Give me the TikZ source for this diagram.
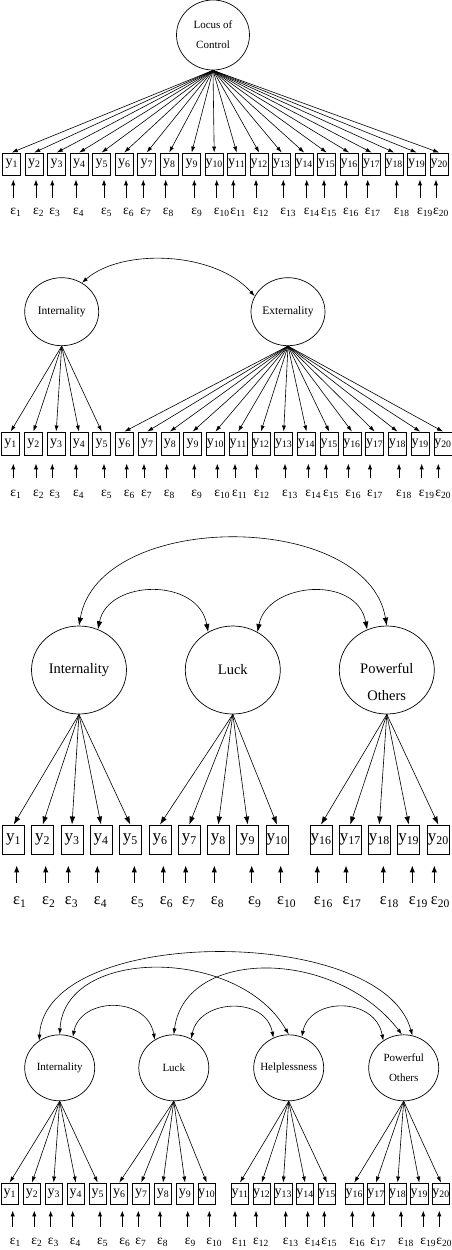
\documentclass[tikz,border=0pt]{standalone}
\usepackage{fontspec}
\setmainfont{Liberation Serif}
\usetikzlibrary{shapes.geometric, arrows.meta}

\newcommand{\ylab}[1]{y\textsubscript{#1}}
\newcommand{\elab}[1]{ε\rlap{\textsubscript{#1}}}

\begin{document}
\begin{tikzpicture}[
	x=1pt, y=-1pt,
	nodes = {
		align = center
	},
	lines/.style={
		line width=0.6pt,
		>={Latex[length=6pt,width=4pt]}
	},
	errlines/.style={
		line width=1pt,
		>={Latex[length=6pt,width=4.5pt]}
	},
	latent/.style={
		ellipse,
		draw=black,
		line width=0.7pt,
		inner sep=-12pt,
		minimum width=70pt,
		minimum height=66pt,
		font=\fontsize{11}{20}\selectfont
	},
	obs/.style={
		rectangle,
		draw=black,
		line width=0.9pt,
		inner sep=0pt,
		minimum width=18pt,
		minimum height=22pt,
		font=\fontsize{14}{14}\selectfont
	},
	err/.style={
		inner sep=0pt,
		anchor=south,
		text height=6pt,
		text depth=0pt,
		font=\fontsize{13.5}{13.5}\selectfont
	}
]
	\useasboundingbox (0,0) rectangle (452,1250);

	% one general factor
	\node[latent, minimum width=73pt, minimum height=70pt] (alc) at (213,35) {
		Locus of\\
		Control
	};
	\foreach \i/\ux in {1/13.3, 2/36, 3/52.3, 4/76, 5/104, 6/126, 7/143.3, 8/165.7, 9/194.3, 10/216.7,
		11/233.3, 12/256, 13/283.3, 14/306.7, 15/324, 16/346, 17/367.7, 18/396.7, 19/420, 20/436} {
		\node[obs] (ay\i) at ({11.7+22.5*(\i-1)}, 164) {\ylab{\i}};
		\node[err] (ae\i) at (\ux, 215) {\elab{\i}};
		\draw[lines,->] (alc.south) -- (ay\i.north);
		\draw[errlines,->,shorten <=11pt,shorten >=4pt] (ae\i.north) -- (ae\i.north |- ay\i.south);
	}

	% two factors
	\node[latent, minimum width=74pt, minimum height=68pt, font=\fontsize{11.5}{14}\selectfont] (bint) at (61.7,311.7) {Internality};
	\node[latent, minimum width=74pt, minimum height=68pt, font=\fontsize{11.5}{14}\selectfont] (bext) at (288,311.7) {Externality};
	\draw[lines,<->] (bint.55) .. controls +(40,-35) and +(-40,-45) .. (bext.155);
	\foreach \i/\ux in {1/13.3, 2/36, 3/52.3, 4/76, 5/104, 6/126.7, 7/144, 8/166.7, 9/194.3, 10/217.3,
		11/235, 12/256.7, 13/285, 14/308.3, 15/326, 16/348.3, 17/370, 18/399, 19/421.7, 20/438.3} {
		\node[obs, minimum height=23pt] (by\i) at ({10.7+22.75*(\i-1)}, 443.5) {\ylab{\i}};
		\node[err] (be\i) at (\ux, 497) {\elab{\i}};
		\draw[errlines,->,shorten <=13pt,shorten >=8pt] (be\i.north) -- (be\i.north |- by\i.south);
	}
	\foreach \i in {1,...,5} \draw[lines,->] (bint.south) -- (by\i.north);
	\foreach \i in {6,...,20} \draw[lines,->] (bext.south) -- (by\i.north);

	% three factors
	\begin{scope}[
		lines/.append style={>={Latex[length=8pt,width=5.5pt]}},
		errlines/.append style={>={Latex[length=7pt,width=5.5pt]}},
		latent/.append style={minimum width=95pt, minimum height=88pt, font=\fontsize{14.5}{27}\selectfont},
		obs/.append style={minimum width=22pt, minimum height=29pt, font=\fontsize{17}{17}\selectfont},
		err/.append style={text height=7pt, font=\fontsize{16.5}{16.5}\selectfont}
	]
		\node[latent] (cint) at (79,670) {Internality};
		\node[latent] (cluck) at (232.8,670) {Luck};
		\node[latent] (cpo) at (386.8,670) {
			\mbox{}\\[8pt]
			Powerful\\
			Others
		};
		\draw[lines,<->] (cint.north) .. controls +(20,-116) and +(-20,-116) .. (cpo.north);
		\draw[lines,<->] (cint.65) .. controls +(10,-50) and +(-10,-55) .. (cluck.123);
		\draw[lines,<->] (cluck.57) .. controls +(10,-50) and +(-10,-55) .. (cpo.116);
		\foreach \i/\bx/\ux in {1/13.7/16.7, 2/42.7/45.7, 3/72/68.3, 4/101/97.3, 5/130.3/134.3,
			6/160/163.3, 7/189.3/185.7, 8/218.3/214.3, 9/247.7/251.7, 10/277/280.7,
			16/321/317.3, 17/350.3/346, 18/379.3/383.3, 19/408.7/412.3, 20/438.3/434.3} {
			\node[obs] (cy\i) at (\bx, 839.5) {\ylab{\i}};
			\node[err] (ce\i) at (\ux, 905) {\elab{\i}};
			\draw[errlines,->,shorten <=15pt,shorten >=11pt] (ce\i.north) -- (ce\i.north |- cy\i.south);
		}
		\foreach \i in {1,...,5} \draw[lines,->] (cint.south) -- (cy\i.north);
		\foreach \i in {6,...,10} \draw[lines,->] (cluck.south) -- (cy\i.north);
		\foreach \i in {16,...,20} \draw[lines,->] (cpo.south) -- (cy\i.north);
	\end{scope}

	% four factors
	\begin{scope}[obs/.append style={minimum width=17pt, minimum height=21pt}]
		\node[latent] (dint) at (59.7,1067.8) {Internality};
		\node[latent] (dluck) at (173.8,1067.8) {Luck};
		\node[latent] (dhelp) at (288.7,1067.8) {Helplessness};
		\node[latent] (dpo) at (403.7,1067.8) {
			Powerful\\
			Others
		};
		\draw[lines,<->] (dint.67) .. controls +(8,-40) and +(-8,-44) .. (dluck.124);
		\draw[lines,<->] (dluck.59) .. controls +(8,-40) and +(-8,-42) .. (dhelp.117);
		\draw[lines,<->] (dhelp.67) .. controls +(8,-40) and +(-8,-44) .. (dpo.127);
		\draw[lines,<->] (dint.north) .. controls +(5,-88) and +(-50,-88) .. (dhelp.north);
		\draw[lines,<->] (dluck.north) .. controls +(11,-87) and +(-67,-87) .. (dpo.93);
		\draw[lines,<->] (dint.127) .. controls +(6,-116) and +(-30,-111) .. (dpo.75);
		\foreach \i/\bx/\ux in {1/9.7/12.7, 2/32/34.3, 3/53.7/50.7, 4/75.8/72.7, 5/97.7/100,
			6/119.3/122.3, 7/141.3/138.3, 8/163/160, 9/185/187.7, 10/206.7/209.3,
			11/240/235, 12/261.7/256, 13/283.3/285.7, 14/305/307.7, 15/327/324.3,
			16/354.3/352.3, 17/376/373.3, 18/397.7/401, 19/419.3/423.3, 20/441/439.3} {
			\node[obs] (dy\i) at (\bx, 1193.5) {\ylab{\i}};
			\node[err] (de\i) at (\ux, 1245) {\elab{\i}};
			\draw[errlines,->,shorten <=12pt,shorten >=6pt] (de\i.north) -- (de\i.north |- dy\i.south);
		}
		\foreach \i in {1,...,5} \draw[lines,->] (dint.south) -- (dy\i.north);
		\foreach \i in {6,...,10} \draw[lines,->] (dluck.south) -- (dy\i.north);
		\foreach \i in {11,...,15} \draw[lines,->] (dhelp.south) -- (dy\i.north);
		\foreach \i in {16,...,20} \draw[lines,->] (dpo.south) -- (dy\i.north);
	\end{scope}
\end{tikzpicture}
\end{document}
